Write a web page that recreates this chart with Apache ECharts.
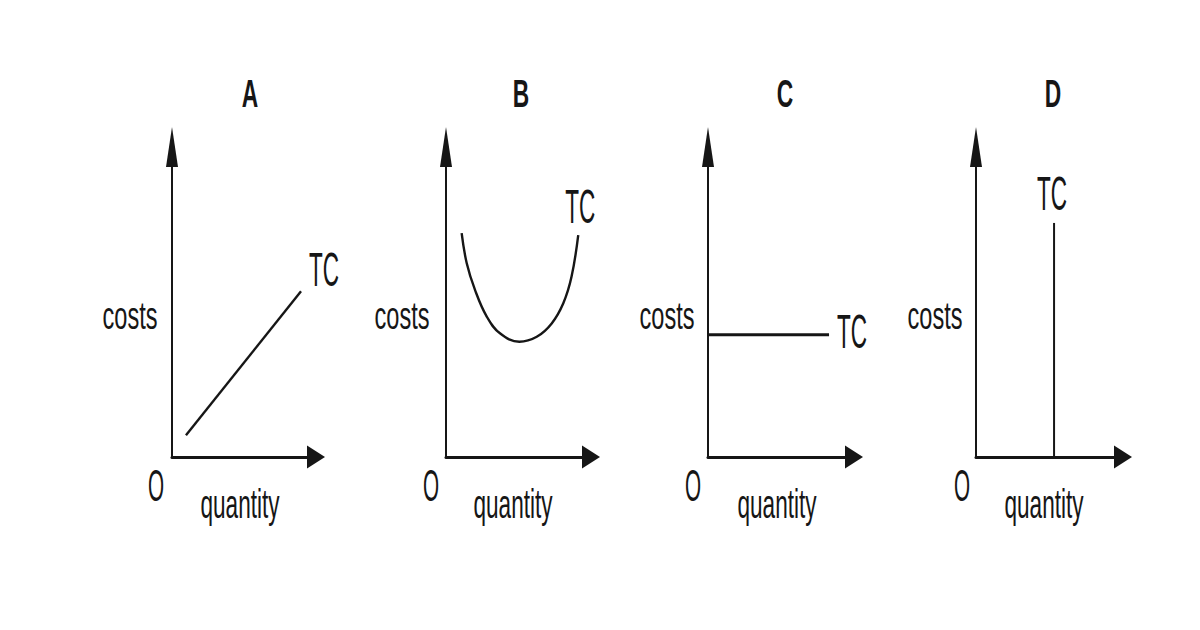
<!DOCTYPE html>
<html>
<head>
<meta charset="utf-8">
<script src="https://cdn.jsdelivr.net/npm/echarts@6/dist/echarts.min.js"></script>
<style>
html,body{margin:0;padding:0;background:#fff;}
#chart{width:1200px;height:630px;}
</style>
</head>
<body>
<div id="chart"></div>
<script>
// ---- data ----
const panelTitles = ['A', 'B', 'C', 'D'];
const yAxisName = 'costs';
const xAxisName = 'quantity';
const originName = 'O';
const curveName = 'TC';
// TC curves, [quantity, cost] in axis units (0..10)
const tcA = [[0.97, 0.7], [8.96, 5.35]];
const tcB = [[1.08, 7.22], [1.43, 6.25], [2.0, 5.39], [2.81, 4.53], [3.72, 3.99], [5.06, 3.72],
             [6.26, 3.88], [7.29, 4.31], [8.09, 4.96], [8.66, 5.82], [9.12, 7.16]];
const tcC = [[0, 3.94], [8.29, 3.94]];
const tcD = [[5.31, 0], [5.31, 7.55]];
const tcSeries = [tcA, tcB, tcC, tcD];

// ---- layout ----
const INK = '#161616';
const FONT = '"Liberation Sans", Arial, sans-serif';
const grids = [
  {left: 172, top: 147, width: 144, height: 310},
  {left: 446, top: 147, width: 145, height: 310},
  {left: 708, top: 147, width: 146, height: 310},
  {left: 976, top: 147, width: 147, height: 310}
];
const seriesWidths = [2.4, 2.4, 3, 2];
const tcOffsets = [[23, -22], [2, -29], [23, -4], [-2, -30]];

const chart = echarts.init(document.getElementById('chart'), null, {renderer: 'svg'});

const xAxes = grids.map((g, i) => ({
  type: 'value', gridIndex: i, min: 0, max: 10,
  axisLine: {show: true, onZero: false, lineStyle: {color: INK, width: 3},
    symbol: ['none', 'triangle'], symbolSize: [23, 18]},
  axisTick: {show: false}, axisLabel: {show: false}, splitLine: {show: false}
}));
const yAxes = grids.map((g, i) => ({
  type: 'value', gridIndex: i, min: 0, max: 10,
  axisLine: {show: true, onZero: false, lineStyle: {color: INK, width: 2},
    symbol: ['none', 'triangle'], symbolSize: [12, 40]},
  axisTick: {show: false}, axisLabel: {show: false}, splitLine: {show: false}
}));
const series = tcSeries.map((d, i) => ({
  type: 'line', name: curveName + ' ' + panelTitles[i],
  xAxisIndex: i, yAxisIndex: i, data: d,
  smooth: i === 1 ? 0.4 : false,
  showSymbol: false, silent: true, animation: false,
  lineStyle: {color: INK, width: seriesWidths[i]}
}));

function txt(text, x, y, size, sx, bold) {
  return {
    type: 'text', x: x, y: y, scaleX: sx, silent: true,
    style: {text: text, x: 0, y: 0, fill: INK, font: (bold ? 'bold ' : '') + size + 'px ' + FONT,
      align: 'center', verticalAlign: 'middle'}
  };
}

chart.setOption({
  backgroundColor: '#fff',
  animation: false,
  grid: grids,
  xAxis: xAxes,
  yAxis: yAxes,
  series: series
});

const graphics = [];
const titleX = [250, 521, 785, 1053];
const costsX = [130, 402, 667, 935];
const qtyX = [240, 513, 777, 1044];
const oX = [156, 431, 693, 962];
for (let i = 0; i < 4; i++) {
  graphics.push(txt(panelTitles[i], titleX[i], 94, 38, 0.6, true));
  graphics.push(txt(yAxisName, costsX[i], 316, 38, 0.62, false));
  graphics.push(txt(xAxisName, qtyX[i], 504, 40, 0.565, false));
  graphics.push(txt(originName, oX[i], 485, 45, 0.46, false));
  const d = tcSeries[i];
  const end = i === 0 || i === 2 ? d[d.length - 1] : d[d.length - 1];
  const p = chart.convertToPixel({gridIndex: i}, end);
  graphics.push(txt(curveName, p[0] + tcOffsets[i][0], p[1] + tcOffsets[i][1], 49, 0.46, false));
}
chart.setOption({graphic: graphics});
</script>
</body>
</html>
